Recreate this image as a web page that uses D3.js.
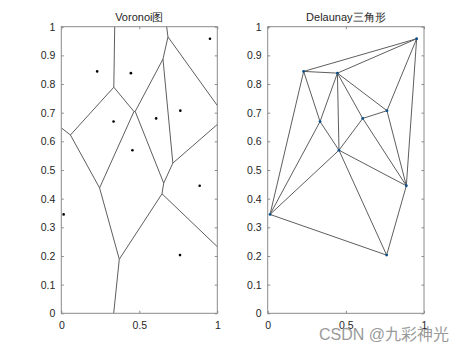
<!DOCTYPE html>
<html><head><meta charset="utf-8">
<script src="https://cdn.jsdelivr.net/npm/d3@7"></script>
<style>body{margin:0;background:#fff}svg{display:block}text{font-family:"Liberation Sans",Arial,sans-serif}</style>
</head><body>
<script>
const xs = [0.015, 0.761, 0.887, 0.953, 0.230, 0.446, 0.335, 0.456, 0.608, 0.763];
const ys = [0.345, 0.203, 0.445, 0.958, 0.844, 0.838, 0.669, 0.569, 0.680, 0.707];
const titles = ["Voronoi图", "Delaunay三角形"];
const yTicks = [0,0.1,0.2,0.3,0.4,0.5,0.6,0.7,0.8,0.9,1];
const xTicks = [0,0.5,1];
const points = xs.map((x,i)=>[x, ys[i]]);

const W=469,H=352;
const svg = d3.select("body").append("svg").attr("width",W).attr("height",H);
const panels = [{x0:61.3,x1:217.3},{x0:267.7,x1:424}];
const yT=26.7, yB=313.3;

// Triangulation computed in data space
const del = d3.Delaunay.from(points);
const vor = del.voronoi([0,0,1,1]);

function scaledContext(x,y){
  const p = d3.path();
  return {
    path:p,
    moveTo:(a,b)=>p.moveTo(x(a),y(b)),
    lineTo:(a,b)=>p.lineTo(x(a),y(b)),
    closePath:()=>p.closePath(),
    arc:()=>{}, rect:()=>{}
  };
}

panels.forEach((p,k)=>{
  const x = d3.scaleLinear().domain([0,1]).range([p.x0,p.x1]);
  const y = d3.scaleLinear().domain([0,1]).range([yB,yT]);
  const g = svg.append("g");
  const ctx = scaledContext(x,y);
  if(k===0){
    vor.render(ctx);
    g.append("path").attr("d", ctx.path.toString()).attr("fill","none").attr("stroke","#5e5e5e").attr("stroke-width",1);
    g.selectAll("circle").data(points).join("circle")
      .attr("cx",d=>x(d[0])).attr("cy",d=>y(d[1])).attr("r",1.3).attr("fill","#000");
  } else {
    del.render(ctx);
    g.append("path").attr("d", ctx.path.toString()).attr("fill","none").attr("stroke","#5e5e5e").attr("stroke-width",1);
    g.selectAll("circle").data(points).join("circle")
      .attr("cx",d=>x(d[0])).attr("cy",d=>y(d[1])).attr("r",1.4).attr("fill","#0b4f8a");
  }
  g.append("rect").attr("x",p.x0).attr("y",yT).attr("width",p.x1-p.x0).attr("height",yB-yT)
    .attr("fill","none").attr("stroke","#8a8a8a").attr("stroke-width",1);
  const ya = g.append("g").attr("transform",`translate(${p.x0},0)`)
    .call(d3.axisLeft(y).tickValues(yTicks).tickSize(-2.5).tickPadding(6).tickFormat(d3.format("~g")));
  const yr = g.append("g").attr("transform",`translate(${p.x1},0)`)
    .call(d3.axisRight(y).tickValues(yTicks).tickSize(-2.5).tickFormat(""));
  const xb = g.append("g").attr("transform",`translate(0,${yB})`)
    .call(d3.axisBottom(x).tickValues(xTicks).tickSize(-2.5).tickPadding(8).tickFormat(d3.format("~g")));
  const xt = g.append("g").attr("transform",`translate(0,${yT})`)
    .call(d3.axisTop(x).tickValues(xTicks).tickSize(-2.5).tickFormat(""));
  [ya,yr,xb,xt].forEach(a=>{
    a.select(".domain").remove();
    a.selectAll("line").attr("stroke","#8a8a8a");
    a.selectAll("text").attr("fill","#262626").style("font-size","10.5px").style("font-family","Liberation Sans, Arial, sans-serif");
  });
  g.append("text").attr("x",(p.x0+p.x1)/2).attr("y",yT-6).attr("text-anchor","middle")
    .attr("fill","#262626").style("font-size","11px").text(titles[k]);
});

svg.append("text").attr("x",319).attr("y",340).attr("fill","#9a9a9a")
  .style("font-size","16px").style("font-family","Liberation Sans, 'Noto Sans CJK SC', sans-serif").text("CSDN @九彩神光");
</script>
</body></html>
